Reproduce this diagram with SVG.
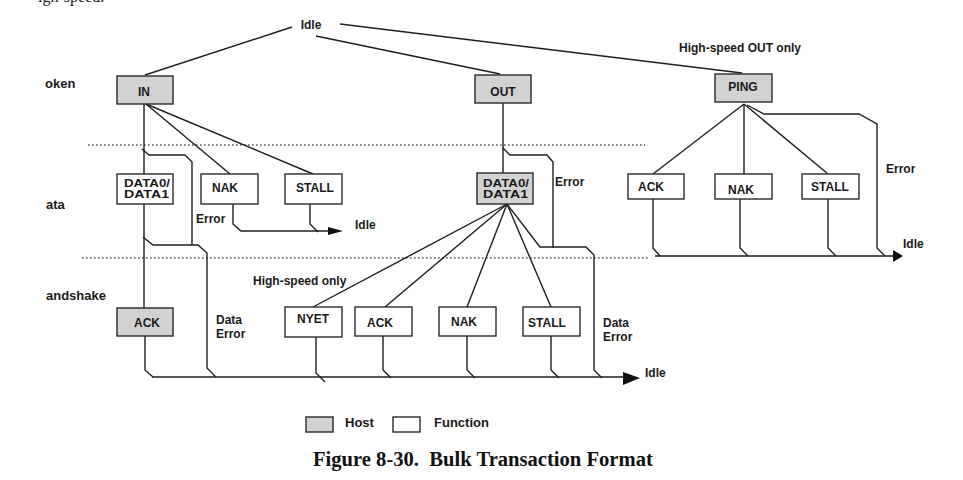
<svg xmlns="http://www.w3.org/2000/svg" width="963" height="480" viewBox="0 0 963 480">
<style>
.bg{fill:#fff}
.box{stroke:#2a2a2a;stroke-width:1.4;fill:#fff}
.host{fill:#d2d2d2}
.ln{stroke:#1e1e1e;stroke-width:1.4;fill:none}
.dot{stroke:#555;stroke-width:1.3;stroke-dasharray:1.6 2.4;fill:none}
.arr{fill:#111}
text{font-family:"Liberation Sans",Arial,sans-serif;font-weight:bold;font-size:12px;fill:#1a1a1a}
.c{text-anchor:middle}
.row{font-size:13px}
.leg{font-size:13px}
.dt{font-size:10.5px}
.cap{font-family:"Liberation Serif","Times New Roman",serif;font-size:20.6px;fill:#111;white-space:pre}
.frag{font-family:"Liberation Serif","Times New Roman",serif;font-weight:normal;font-size:16px;fill:#222}
</style>
<rect class="bg" x="0" y="0" width="963" height="480"/>
<text class="frag" x="38" y="2">igh-speed.</text>

<g id="separators">
<line class="dot" x1="88" y1="145" x2="645" y2="145"/>
<line class="dot" x1="82" y1="258" x2="648" y2="258"/>
</g>

<g id="row-labels">
<text class="row" x="45" y="88">oken</text>
<text class="row" x="46" y="209">ata</text>
<text class="row" x="46" y="300">andshake</text>
</g>

<g id="connectors">
<polyline class="ln" points="292,27 145,75"/>
<polyline class="ln" points="316,36 500,74"/>
<polyline class="ln" points="340,24 742,73"/>
<polyline class="ln" points="144,104 144,174"/>
<polyline class="ln" points="146,104 230,174"/>
<polyline class="ln" points="146,104 313,174"/>
<polyline class="ln" points="142,149 149,155 185,155 192,162 192,245"/>
<polyline class="ln" points="144,204 144,308"/>
<polyline class="ln" points="143,237 153,245 198,245 207,253 207,368 216,377"/>
<polyline class="ln" points="145,336 145,370 153,377"/>
<polyline class="ln" points="152,377 626,377"/>
<polygon class="arr" points="623,372 640,378 623,385"/>
<polyline class="ln" points="233,204 233,224 241,231 330,231"/>
<polyline class="ln" points="310,204 310,224 318,232"/>
<polygon class="arr" points="328,227 343,231 328,235"/>
<polyline class="ln" points="503,103 503,173"/>
<polyline class="ln" points="503,148 510,155 547,155 553,162 553,248"/>
<polyline class="ln" points="507,204 313,307"/>
<polyline class="ln" points="507,204 385,307"/>
<polyline class="ln" points="507,204 467,307"/>
<polyline class="ln" points="507,204 551,307"/>
<polyline class="ln" points="507,204 540,247 586,247 594,255 594,370 602,378"/>
<polyline class="ln" points="316,337 316,373 325,382"/>
<polyline class="ln" points="383,336 383,370 391,378"/>
<polyline class="ln" points="467,336 467,370 475,378"/>
<polyline class="ln" points="551,336 551,370 559,378"/>
<polyline class="ln" points="744,104 653,174"/>
<polyline class="ln" points="744,104 744,174"/>
<polyline class="ln" points="744,104 828,174"/>
<polyline class="ln" points="747,105 764,114 859,114 877,124 877,248 885,256"/>
<polyline class="ln" points="653,199 653,248 660,256"/>
<polyline class="ln" points="740,199 740,248 748,256"/>
<polyline class="ln" points="828,199 828,248 836,256"/>
<polyline class="ln" points="655,256 895,256"/>
<polygon class="arr" points="893,250 903,256 893,262"/>
</g>

<g id="edge-labels">
<text class="c" x="311" y="29">Idle</text>
<text class="c" x="740" y="52">High-speed OUT only</text>
<text x="196" y="223">Error</text>
<text x="355" y="229">Idle</text>
<text x="555" y="186">Error</text>
<text x="886" y="173">Error</text>
<text x="903" y="248">Idle</text>
<text x="253" y="285">High-speed only</text>
<text x="216" y="324">Data</text>
<text x="216" y="338">Error</text>
<text x="603" y="327">Data</text>
<text x="603" y="341">Error</text>
<text x="645" y="377">Idle</text>
</g>

<g id="node-in"><rect class="box host" x="117" y="76" width="56" height="28"/><text class="c" x="144" y="96">IN</text></g>
<g id="node-out"><rect class="box host" x="475" y="75" width="56" height="28"/><text class="c" x="503" y="96">OUT</text></g>
<g id="node-ping"><rect class="box host" x="715" y="74" width="57" height="28"/><text class="c" x="743" y="91">PING</text></g>

<g id="node-in-data"><rect class="box" x="117" y="174" width="56" height="30"/><text class="dt" x="124" y="187" textLength="46" lengthAdjust="spacingAndGlyphs">DATA0/</text><text class="dt" x="124" y="198" textLength="45" lengthAdjust="spacingAndGlyphs">DATA1</text></g>
<g id="node-in-nak"><rect class="box" x="201" y="174" width="57" height="30"/><text class="c" x="225" y="192">NAK</text></g>
<g id="node-in-stall"><rect class="box" x="285" y="174" width="57" height="30"/><text class="c" x="315" y="192">STALL</text></g>

<g id="node-out-data"><rect class="box host" x="477" y="173" width="56" height="31"/><text class="dt" x="483" y="186.5" textLength="46" lengthAdjust="spacingAndGlyphs">DATA0/</text><text class="dt" x="483" y="197.5" textLength="45" lengthAdjust="spacingAndGlyphs">DATA1</text></g>

<g id="node-ping-ack"><rect class="box" x="628" y="174" width="56" height="25"/><text class="c" x="651" y="191">ACK</text></g>
<g id="node-ping-nak"><rect class="box" x="715" y="174" width="57" height="25"/><text class="c" x="741" y="194">NAK</text></g>
<g id="node-ping-stall"><rect class="box" x="802" y="174" width="57" height="25"/><text class="c" x="830" y="191">STALL</text></g>

<g id="node-in-ack"><rect class="box host" x="117" y="308" width="56" height="28"/><text class="c" x="147" y="327">ACK</text></g>
<g id="node-nyet"><rect class="box" x="285" y="307" width="57" height="30"/><text class="c" x="313" y="323">NYET</text></g>
<g id="node-out-ack"><rect class="box" x="355" y="307" width="57" height="29"/><text class="c" x="380" y="327">ACK</text></g>
<g id="node-out-nak"><rect class="box" x="439" y="307" width="57" height="29"/><text class="c" x="464" y="326">NAK</text></g>
<g id="node-out-stall"><rect class="box" x="523" y="307" width="57" height="29"/><text class="c" x="547" y="327">STALL</text></g>

<g id="legend">
<rect class="box host" x="306" y="417" width="27" height="15"/>
<text class="leg" x="345" y="427">Host</text>
<rect class="box" x="393" y="417" width="27" height="15"/>
<text class="leg" x="434" y="427">Function</text>
</g>

<text class="cap" x="313" y="466">Figure 8-30.  Bulk Transaction Format</text>
</svg>
